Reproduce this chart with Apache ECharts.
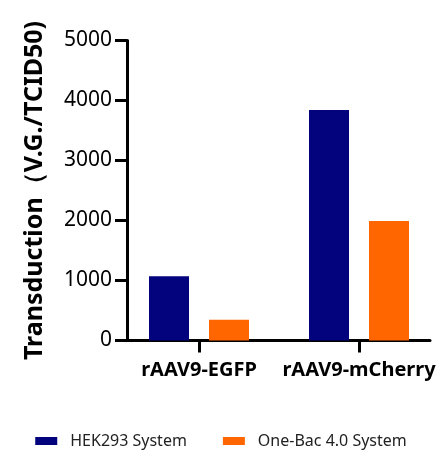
<!DOCTYPE html>
<html>
<head>
<meta charset="utf-8">
<script src="https://cdn.jsdelivr.net/npm/echarts@6/dist/echarts.min.js"></script>
<style>
  html, body { margin: 0; padding: 0; background: #fff; }
  #main { width: 442px; height: 460px; }
</style>
</head>
<body>
<div id="main"></div>
<script>
    var categories = ['rAAV9-EGFP', 'rAAV9-mCherry'];
    var seriesNames = ['HEK293 System', 'One-Bac 4.0 System'];
    var hekValues = [1070, 3840];
    var oneBacValues = [345, 1990];
    var yTicks = [0, 1000, 2000, 3000, 4000, 5000];

    var myChart = echarts.init(document.getElementById('main'));
    var fontFamily = '"Noto Sans", sans-serif';
    var option = {
        animation: false,
        textStyle: { fontFamily: fontFamily },
        color: ['#03037e', '#ff6600'],
        legend: {
            bottom: 6,
            left: 'center',
            itemWidth: 22,
            itemHeight: 8,
            itemGap: 36,
            icon: 'rect',
            textStyle: { fontSize: 16, color: '#222', padding: [0, 0, 0, 8], fontFamily: fontFamily },
            data: seriesNames
        },
        grid: [
            // bars
            { left: 119, width: 320, top: 40.5, height: 300 },
            // visible y axis and x axis line
            { left: 127, width: 303, top: 40.5, height: 300 }
        ],
        xAxis: [
            {
                gridIndex: 0,
                type: 'category',
                data: categories,
                axisLine: { show: false },
                axisTick: { show: true, interval: 0, alignWithLabel: true, length: 12, lineStyle: { color: '#000', width: 3 } },
                axisLabel: { interval: 0, margin: 20, fontSize: 20, fontWeight: 'bold', color: '#000', fontFamily: fontFamily }
            },
            {
                gridIndex: 1,
                type: 'value',
                min: 0,
                max: 1,
                axisLine: { show: true, onZero: false, lineStyle: { color: '#000', width: 3 } },
                axisTick: { show: false },
                axisLabel: { show: false },
                splitLine: { show: false }
            }
        ],
        yAxis: [
            {
                gridIndex: 0,
                type: 'value',
                min: yTicks[0],
                max: yTicks[yTicks.length - 1],
                show: false
            },
            {
                gridIndex: 1,
                type: 'value',
                min: yTicks[0],
                max: yTicks[yTicks.length - 1],
                interval: yTicks[1] - yTicks[0],
                name: 'Transduction（V.G./TCID50)',
                nameLocation: 'middle',
                nameRotate: 90,
                nameGap: 80,
                nameTextStyle: { fontSize: 25, fontWeight: 'bold', color: '#000', fontFamily: fontFamily },
                axisLine: { show: true, lineStyle: { color: '#000', width: 3 } },
                axisTick: { show: true, length: 12, lineStyle: { color: '#000', width: 3 } },
                axisLabel: { margin: 15, fontSize: 21, color: '#000', fontFamily: fontFamily,
                    formatter: function (v) { return String(v); } },
                splitLine: { show: false }
            }
        ],
        series: [
            {
                name: seriesNames[0],
                type: 'bar',
                xAxisIndex: 0,
                yAxisIndex: 0,
                barWidth: 40,
                barGap: '50%',
                data: hekValues
            },
            {
                name: seriesNames[1],
                type: 'bar',
                xAxisIndex: 0,
                yAxisIndex: 0,
                barWidth: 40,
                barGap: '50%',
                data: oneBacValues
            }
        ]
    };
    myChart.setOption(option);
</script>
</body>
</html>
